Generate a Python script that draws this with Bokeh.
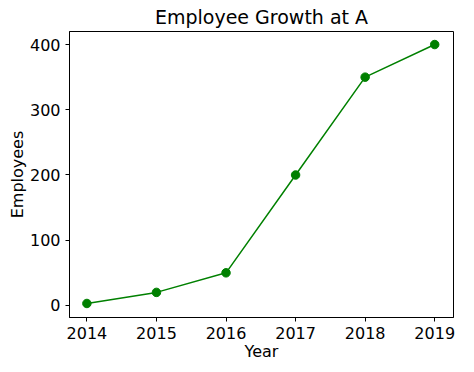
from bokeh.plotting import figure
from bokeh.models import FixedTicker, Range1d, Spacer
from bokeh.layouts import row
from bokeh.embed import file_html
from bokeh.resources import INLINE

years = [2014, 2015, 2016, 2017, 2018, 2019]
employees = [3, 20, 50, 200, 350, 400]
y_ticks = [0, 100, 200, 300, 400]

FONT = "DejaVu Sans"

p = figure(frame_width=384, frame_height=286, output_backend="svg", toolbar_location=None,
           x_range=Range1d(2013.75, 2019.27), y_range=Range1d(-18.5, 420),
           min_border_left=57, min_border_right=11, min_border_top=27, min_border_bottom=43)

p.title.text = "Employee Growth at A"
p.title.text_font = FONT
p.title.text_font_size = "19px"
p.title.text_font_style = "normal"
p.title.align = "center"
p.title.text_color = "black"
p.title.offset = 0
p.title.standoff = 7

p.line(years, employees, line_color="#008000", line_width=1.5)
p.scatter(years, employees, size=8.5, fill_color="#008000", line_color="#008000")

p.xgrid.visible = False
p.ygrid.visible = False
p.outline_line_color = "black"
p.outline_line_width = 1
p.outline_line_alpha = 1

for ax in (p.xaxis[0], p.yaxis[0]):
    ax.major_label_text_font = FONT
    ax.major_label_text_font_size = "16px"
    ax.major_label_text_color = "black"
    ax.axis_label_text_font = FONT
    ax.axis_label_text_font_size = "16px"
    ax.axis_label_text_font_style = "normal"
    ax.axis_label_text_color = "black"
    ax.major_tick_in = 0
    ax.major_tick_out = 4
    ax.minor_tick_in = 0
    ax.minor_tick_out = 0
    ax.axis_line_color = "black"
    ax.major_tick_line_color = "black"
    ax.axis_label_standoff = 0
    ax.major_label_standoff = 5

p.xaxis.ticker = FixedTicker(ticks=years)
p.yaxis.ticker = FixedTicker(ticks=y_ticks)
p.xaxis.axis_label = "Year"
p.yaxis.axis_label = "Employees"

layout = row(Spacer(width=4), p)

open("out.html", "w").write(file_html(layout, INLINE))
